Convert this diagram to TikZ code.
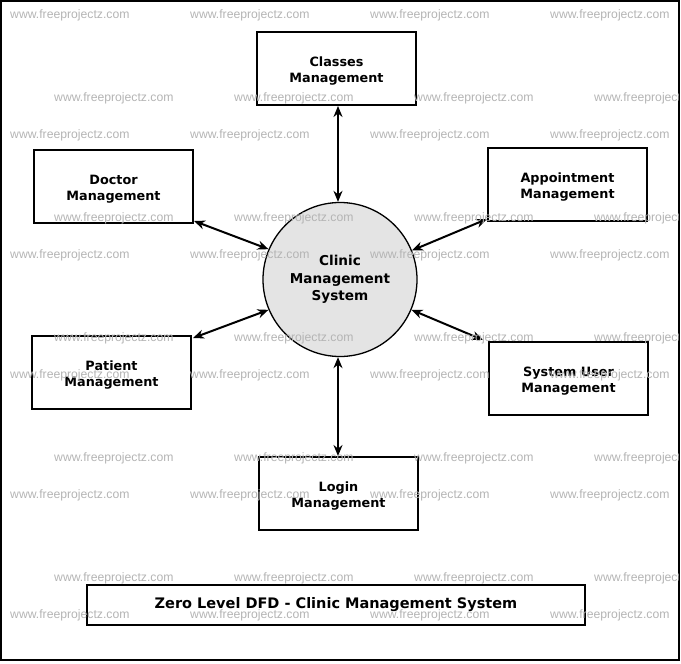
\documentclass[tikz,border=0pt]{standalone}
\usepackage{fontspec}
\setmainfont{DejaVu Sans}
\newfontfamily\wmfont{Liberation Sans}
\usetikzlibrary{arrows.meta,calc}
\definecolor{circfill}{HTML}{E4E4E4}
\definecolor{wmgray}{HTML}{B4B4B4}
\begin{document}
\begin{tikzpicture}[x=1bp,y=-1bp,
  boxtext/.style={inner sep=0pt,align=center,yshift=-2.5bp,font=\fontsize{12.8bp}{16.5bp}\selectfont\bfseries},
  procbox/.style={draw=black,line width=2bp,fill=white,minimum width=159bp,minimum height=73bp,
     inner sep=0pt,label={[boxtext]center:#1}},
  proccirc/.style={circle,draw=black,line width=1.3bp,fill=circfill,minimum size=154bp,inner sep=0pt,
     align=center,font=\fontsize{13.6bp}{17.5bp}\selectfont\bfseries},
  titlebox/.style={draw=black,line width=2bp,fill=white,minimum width=498bp,minimum height=40bp,
     inner sep=0pt,font=\fontsize{14.5bp}{17bp}\selectfont\bfseries},
  flow/.style={line width=2bp,{Stealth[length=11bp,width=9bp]}-{Stealth[length=11bp,width=9bp]}},
  wm/.style={anchor=west,inner sep=0pt,text=wmgray,font=\fontsize{12.2bp}{14bp}\wmfont}]
\useasboundingbox (0,0) rectangle (681,664);
\draw[line width=2bp] (1,1) rectangle (679,660);
\node[proccirc] (circ) at (340,279.5) {Clinic\\Management\\System};
\node[procbox={Classes\\Management}] (cls) at (336.5,68.5) {};
\node[procbox={Doctor\\Management}] (doc) at (113.5,186.5) {};
\node[procbox={Appointment\\Management}] (app) at (567.5,184.5) {};
\node[procbox={Patient\\Management}] (pat) at (111.5,372.5) {};
\node[procbox={System User\\Management}] (sys) at (568.5,378.5) {};
\node[procbox={Login\\Management}] (login) at (338.5,493.5) {};
\node[titlebox] (title) at (336,605) {Zero Level DFD - Clinic Management System};
\coordinate (clsend) at ($(cls.south)+(1.5,0)$);
\coordinate (loginend) at ($(login.north)+(-0.5,0)$);
\draw[flow] (clsend) -- (clsend |- circ.north);
\draw[flow] (loginend) -- (loginend |- circ.south);
\coordinate (docend) at ($(doc.south east)+(0,-3)$);
\coordinate (append) at ($(app.south west)+(0,-3)$);
\coordinate (patend) at ($(pat.north east)+(1,3)$);
\coordinate (sysend) at ($(sys.north west)+(-5,-1)$);
\draw[flow] (docend) -- (circ.157);
\draw[flow] (append) -- (circ.22);
\draw[flow] (patend) -- (circ.203);
\draw[flow] (sysend) -- (circ.337);
\begin{scope}
\clip (2,2) rectangle (678,659);
\foreach \yy in {15,135,255,375,495,615}{
  \foreach \xx in {10,190,370,550}{
    \node[wm] at (\xx,\yy) {www.freeprojectz.com};
  }
}
\foreach \yy in {98,218,338,458,578}{
  \foreach \xx in {54,234,414,594}{
    \node[wm] at (\xx,\yy) {www.freeprojectz.com};
  }
}
\end{scope}
\end{tikzpicture}
\end{document}
